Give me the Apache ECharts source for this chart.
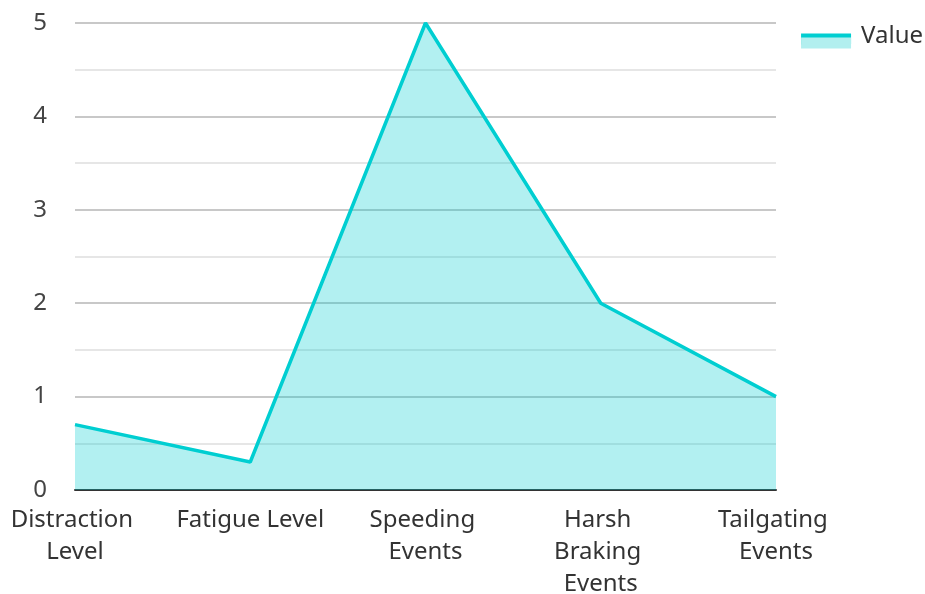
<!DOCTYPE html>
<html>
<head>
<meta charset="utf-8">
<style>
  html, body { margin: 0; padding: 0; background: #fff; }
  #chart { width: 925px; height: 594px; }
</style>
<script src="https://cdn.jsdelivr.net/npm/echarts@6/dist/echarts.min.js"></script>
</head>
<body>
<div id="chart"></div>
<script>
// Driver behaviour metrics
const categories = ['Distraction Level', 'Fatigue Level', 'Speeding Events', 'Harsh Braking Events', 'Tailgating Events'];
const values = [0.7, 0.3, 5, 2, 1];
const seriesName = 'Value';

const lineColor = '#00CED1';
const areaColor = '#B2EFEF';

const chart = echarts.init(document.getElementById('chart'), null, { renderer: 'canvas' });
const font = '"Noto Sans", "Open Sans", sans-serif';

chart.setOption({
  animation: false,
  textStyle: { fontFamily: font },
  legend: {
    data: [seriesName],
    right: 2,
    top: 24,
    padding: 0,
    icon: 'rect',
    itemWidth: 50,
    itemHeight: 11,
    itemGap: 10,
    // light swatch with a solid band on top, like the area + stroke
    itemStyle: {
      color: areaColor,
      shadowColor: lineColor,
      shadowBlur: 0,
      shadowOffsetX: 0,
      shadowOffsetY: -4
    },
    formatter: '{v|{name}}',
    textStyle: {
      fontSize: 24,
      color: '#333',
      fontFamily: font,
      rich: {
        v: { fontSize: 24, color: '#333', fontFamily: font, padding: [0, 0, 14, 5] }
      }
    }
  },
  grid: { left: 75, right: 149, top: 23, bottom: 104, containLabel: false, outerBoundsMode: 'none' },
  xAxis: {
    type: 'category',
    data: categories,
    boundaryGap: false,
    axisLine: { lineStyle: { color: '#333', width: 2 } },
    axisTick: { show: false },
    axisLabel: {
      fontSize: 24,
      color: '#333',
      fontFamily: font,
      margin: 14,
      width: 160,
      overflow: 'break',
      lineHeight: 32,
      interval: 0
    }
  },
  yAxis: {
    type: 'value',
    min: 0,
    max: 5,
    interval: 1,
    axisLine: { show: false },
    axisTick: { show: false },
    axisLabel: { fontSize: 24, color: '#444', fontFamily: font, margin: 28 },
    splitLine: { lineStyle: { color: '#c8c8c8', width: 2 } },
    minorTick: { show: false, splitNumber: 2 },
    minorSplitLine: { show: true, lineStyle: { color: '#e6e6e6', width: 2 } }
  },
  series: [{
    name: seriesName,
    type: 'line',
    data: values,
    symbol: 'none',
    lineStyle: { color: lineColor, width: 3.5 },
    itemStyle: { color: lineColor },
    areaStyle: { color: lineColor, opacity: 0.3 }
  }]
});
</script>
</body>
</html>
